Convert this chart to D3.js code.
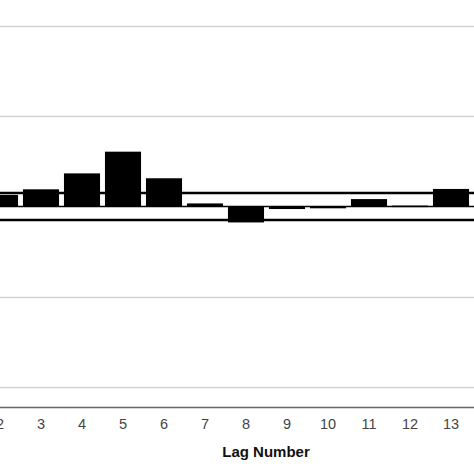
<!DOCTYPE html>
<html>
<head>
<meta charset="utf-8">
<script src="https://cdn.jsdelivr.net/npm/d3@7"></script>
<style>
  body { margin: 0; background: #fff; }
  svg { display: block; }
</style>
</head>
<body>
<div id="chart"></div>
<script>
// visible part of the ACF plot (lags 2..13)
var lags = [2, 3, 4, 5, 6, 7, 8, 9, 10, 11, 12, 13];
var acf = [0.064, 0.095, 0.183, 0.303, 0.156, 0.017, -0.088, -0.014, -0.010, 0.041, 0.005, 0.097];
var confUpper = 0.075, confLower = -0.075;
var yTicks = [-1, -0.5, 0.5, 1];
var xTitle = "Lag Number";

var width = 474, height = 474;

var svg = d3.select("#chart").append("svg")
	.attr("width", width)
	.attr("height", height);

// band scale, lag 2 centred on the left edge (chart is cropped)
var step = 41;
var x = d3.scaleBand()
	.domain(lags)
	.range([-step / 2, -step / 2 + lags.length * step])
	.paddingInner(0.12)
	.paddingOuter(0.06);

var y = d3.scaleLinear()
	.domain([-1.108, 1.108])
	.range([407, 6]);

// grid lines
svg.append("g")
	.selectAll("line")
	.data(yTicks)
	.enter().append("line")
	.attr("x1", 0).attr("x2", width)
	.attr("y1", function(d) { return Math.round(y(d)) + 0.5; })
	.attr("y2", function(d) { return Math.round(y(d)) + 0.5; })
	.attr("stroke", "#d2d2d2")
	.attr("stroke-width", 1.5);

// bars
svg.append("g")
	.selectAll("rect")
	.data(lags)
	.enter().append("rect")
	.attr("x", function(d) { return x(d); })
	.attr("width", x.bandwidth())
	.attr("y", function(d, i) { return y(Math.max(0, acf[i])); })
	.attr("height", function(d, i) { return Math.max(1.5, Math.abs(y(acf[i]) - y(0))); })
	.attr("fill", "#000");

// zero line
svg.append("line")
	.attr("x1", 0).attr("x2", width)
	.attr("y1", y(0)).attr("y2", y(0))
	.attr("stroke", "#000")
	.attr("stroke-width", 1.5);

// confidence limits
svg.append("g")
	.selectAll("line")
	.data([confUpper, confLower])
	.enter().append("line")
	.attr("x1", 0).attr("x2", width)
	.attr("y1", function(d) { return y(d); })
	.attr("y2", function(d) { return y(d); })
	.attr("stroke", "#000")
	.attr("stroke-width", 2.5);

// x axis
var xAxis = svg.append("g")
	.attr("transform", "translate(0," + y.range()[0] + ")")
	.call(d3.axisBottom(x).tickSize(0).tickPadding(12));
xAxis.select(".domain")
	.attr("d", "M0,0.5H" + width)
	.attr("stroke", "#666")
	.attr("stroke-width", 1.5);
xAxis.selectAll("text")
	.attr("font-family", "Liberation Sans, Arial, sans-serif")
	.attr("font-size", "14.5px")
	.attr("fill", "#444");

svg.append("text")
	.attr("x", 266)
	.attr("y", 457)
	.attr("text-anchor", "middle")
	.attr("font-family", "Liberation Sans, Arial, sans-serif")
	.attr("font-size", "15px")
	.attr("font-weight", "bold")
	.attr("fill", "#111")
	.text(xTitle);
</script>
</body>
</html>
